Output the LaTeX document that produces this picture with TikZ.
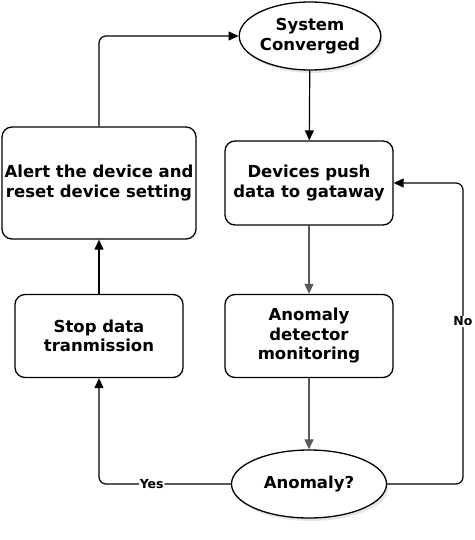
\documentclass[tikz,border=0pt]{standalone}
\usepackage{fontspec}
\setmainfont{DejaVu Sans}
\usetikzlibrary{shapes.geometric,arrows.meta,shadows}

\tikzset{
  stepbox/.style={draw, line width=1.3pt, rounded corners=10pt, align=center, inner sep=0pt, font=\bfseries\fontsize{16.5}{19.5}\selectfont},
  roundnode/.style={draw, line width=1.3pt, ellipse, fill=white, inner sep=0pt, align=center,
    drop shadow={shadow xshift=2pt, shadow yshift=-3pt, fill=gray!40},
    font=\bfseries\fontsize{16.5}{19.5}\selectfont},
  link/.style={line width=1.2pt, -{Triangle[length=10pt,width=9pt]}, rounded corners=7pt},
  tag/.style={fill=white, inner sep=1pt, font=\bfseries\fontsize{12.5}{14}\selectfont}
}

\begin{document}
\begin{tikzpicture}[x=1pt, y=-1pt]
\useasboundingbox (0,0) rectangle (474,540);

% Nodes
\node [roundnode, minimum width=140pt, minimum height=68pt] (conv) at (310,36) {System\\Converged};
\node [stepbox, minimum width=194pt, minimum height=112pt] (alert) at (99,183) {Alert the device and\\reset device setting};
\node [stepbox, minimum width=168pt, minimum height=84pt] (push) at (309,183) {Devices push\\data to gataway};
\node [stepbox, minimum width=168pt, minimum height=83pt] (stop) at (99,336) {Stop data\\tranmission};
\node [stepbox, minimum width=168pt, minimum height=83pt] (detect) at (309,336) {Anomaly\\detector\\monitoring};
\node [roundnode, minimum width=155pt, minimum height=68pt] (anom) at (309,484) {Anomaly?};

% Main flow
\draw [link] (conv) -- (push);
\draw [link, gray!70!black] (push) -- (detect);
\draw [link, gray!70!black] (detect) -- (anom);

% Yes branch
\draw [link] (anom.west) -| node [tag, pos=0.3] {Yes} (stop.south);
\draw [link] (stop) -- (alert);
\draw [link] (alert.north) |- (conv.west);

% No branch
\coordinate (noturn) at (463,484);
\draw [link] (anom.east) -- (noturn) |- node [tag, pos=0.27] {No} (push.east);
\end{tikzpicture}
\end{document}
